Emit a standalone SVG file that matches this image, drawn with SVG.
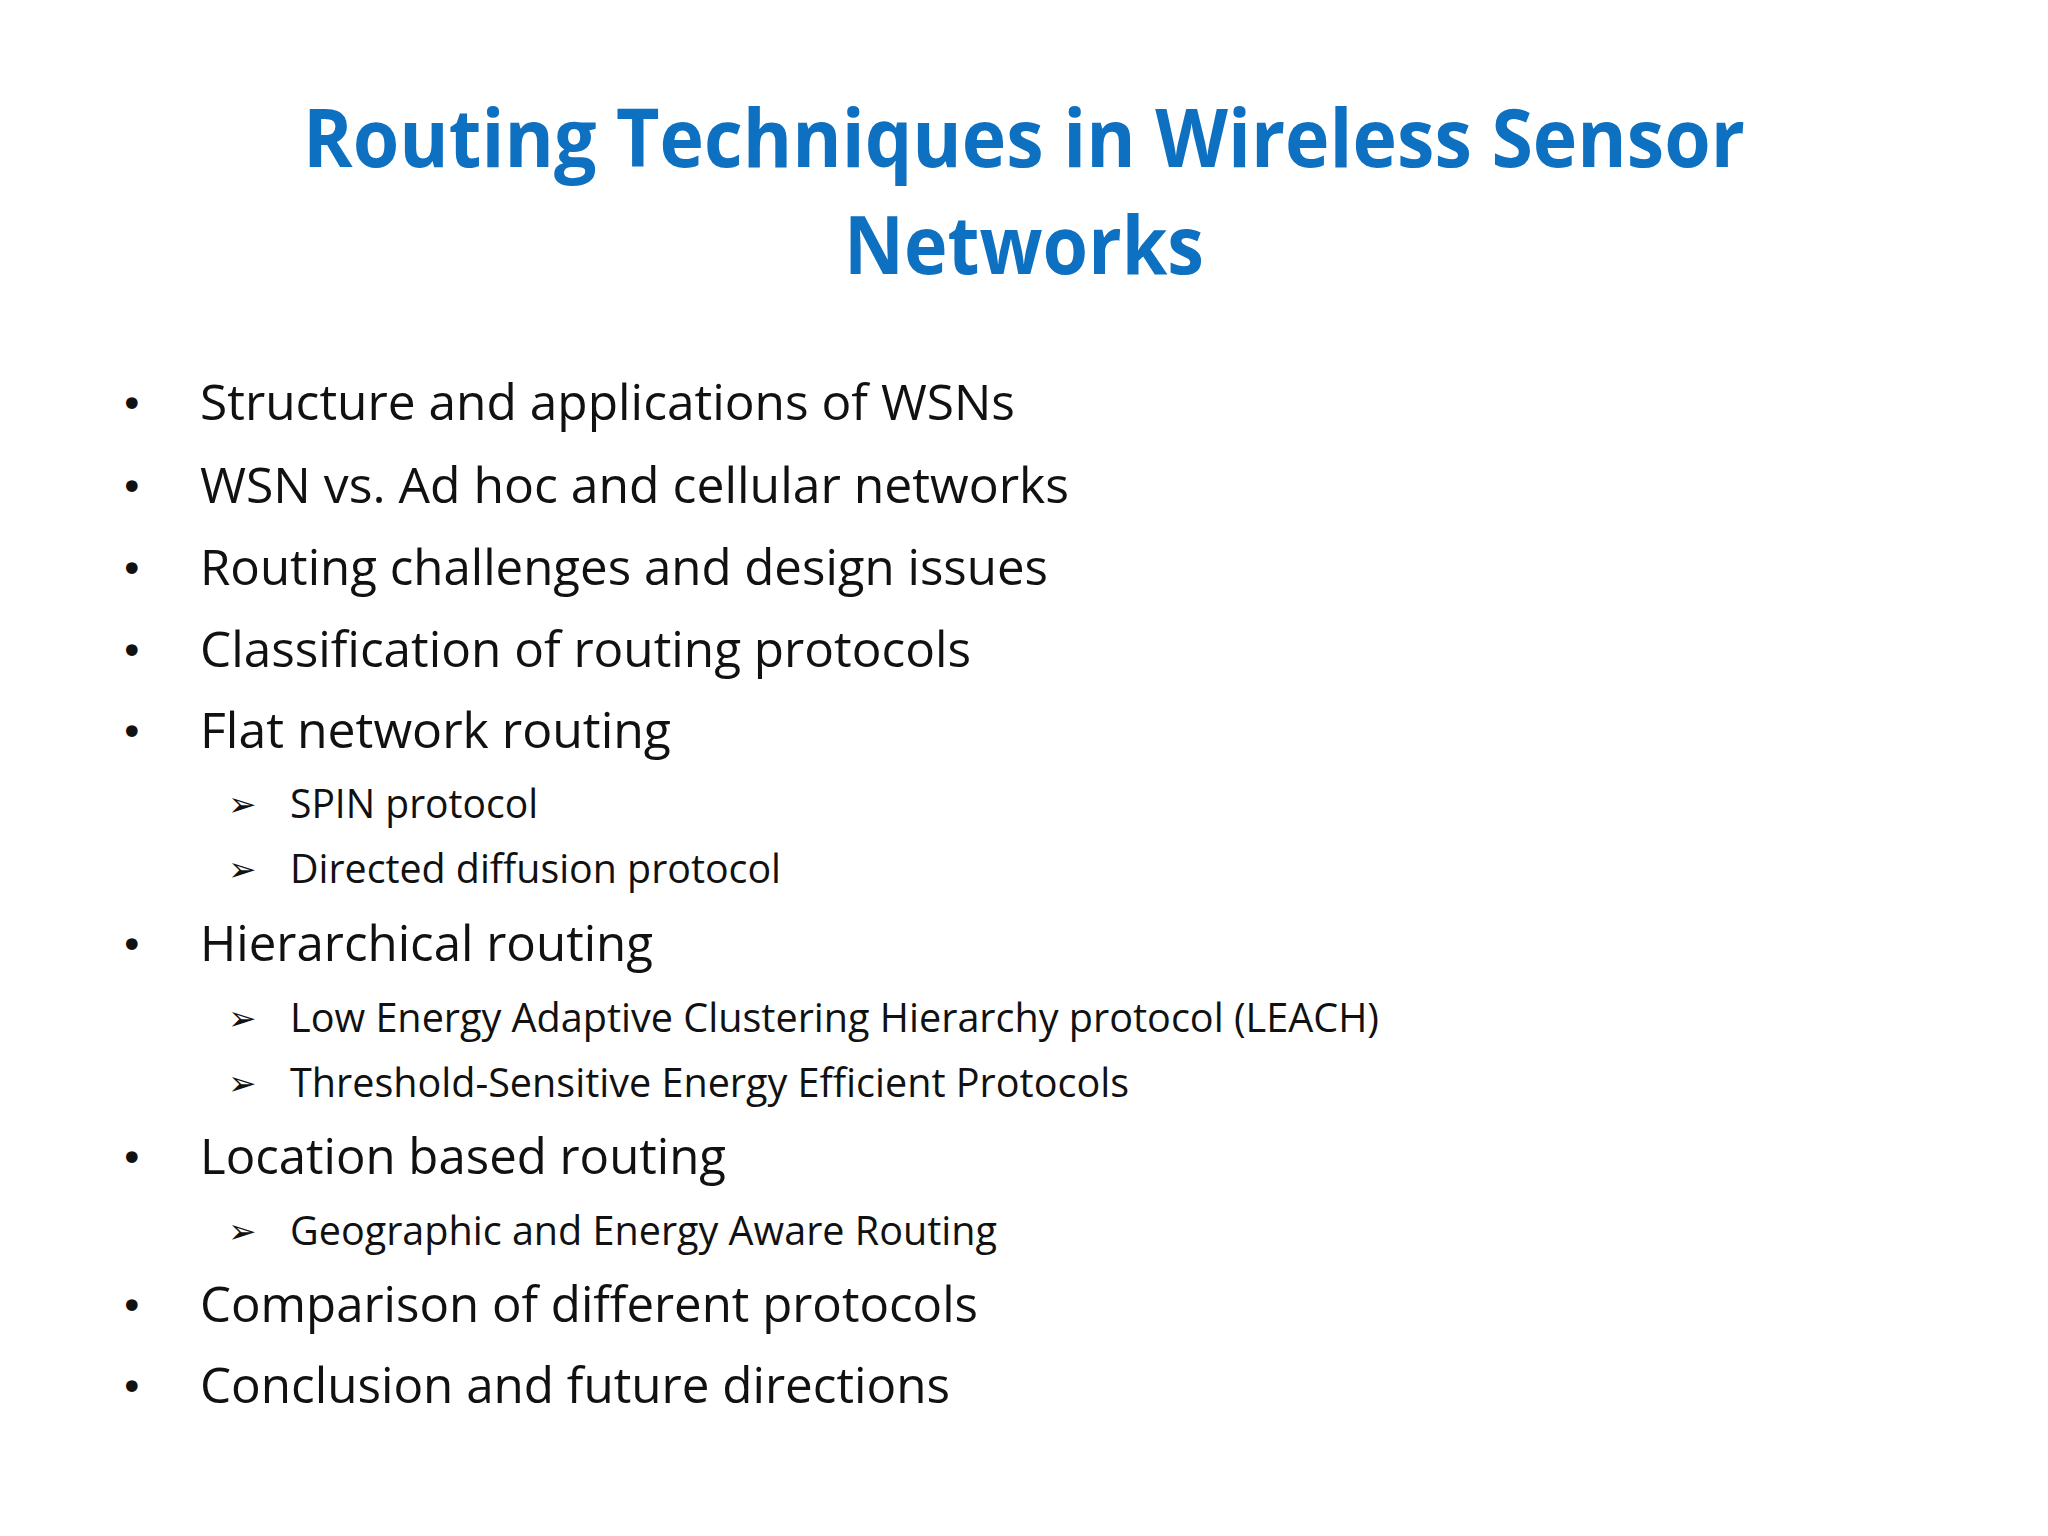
<svg xmlns="http://www.w3.org/2000/svg" width="2048" height="1536" viewBox="0 0 2048 1536">
<style>
.t{font-family:"Open Sans","Noto Sans",sans-serif;font-weight:bold;fill:#0e70c0;font-size:80px}
.m{font-family:"Open Sans","Noto Sans",sans-serif;fill:#111;font-size:50px}
.s{font-family:"Open Sans","Noto Sans",sans-serif;fill:#111;font-size:40px}
.b{font-family:"DejaVu Sans",sans-serif;fill:#111;font-size:40px}
.a{font-family:"DejaVu Sans",sans-serif;fill:#111;font-size:34px}
</style>
<rect width="2048" height="1536" fill="#fff"/>
<g id="title">
<text class="t" x="1024" y="167" text-anchor="middle" textLength="1442" lengthAdjust="spacingAndGlyphs">Routing Techniques in Wireless Sensor</text>
<text class="t" x="1024" y="274" text-anchor="middle" textLength="360" lengthAdjust="spacingAndGlyphs">Networks</text>
</g>
<g id="bullets">
<text class="b" x="120" y="418">•</text><text class="m" x="200" y="420" textLength="815" lengthAdjust="spacingAndGlyphs">Structure and applications of WSNs</text>
<text class="b" x="120" y="501">•</text><text class="m" x="200" y="503" textLength="869" lengthAdjust="spacingAndGlyphs">WSN vs. Ad hoc and cellular networks</text>
<text class="b" x="120" y="583">•</text><text class="m" x="200" y="585" textLength="848" lengthAdjust="spacingAndGlyphs">Routing challenges and design issues</text>
<text class="b" x="120" y="665">•</text><text class="m" x="200" y="667" textLength="771" lengthAdjust="spacingAndGlyphs">Classification of routing protocols</text>
<text class="b" x="120" y="746">•</text><text class="m" x="200" y="748" textLength="471" lengthAdjust="spacingAndGlyphs">Flat network routing</text>
<text class="a" x="228" y="816">➢</text><text class="s" x="290" y="818" textLength="248" lengthAdjust="spacingAndGlyphs">SPIN protocol</text>
<text class="a" x="228" y="881">➢</text><text class="s" x="290" y="883" textLength="491" lengthAdjust="spacingAndGlyphs">Directed diffusion protocol</text>
<text class="b" x="120" y="959">•</text><text class="m" x="200" y="961" textLength="453" lengthAdjust="spacingAndGlyphs">Hierarchical routing</text>
<text class="a" x="228" y="1030">➢</text><text class="s" x="290" y="1032" textLength="1089" lengthAdjust="spacingAndGlyphs">Low Energy Adaptive Clustering Hierarchy protocol (LEACH)</text>
<text class="a" x="228" y="1095">➢</text><text class="s" x="290" y="1097" textLength="839" lengthAdjust="spacingAndGlyphs">Threshold-Sensitive Energy Efficient Protocols</text>
<text class="b" x="120" y="1172">•</text><text class="m" x="200" y="1174" textLength="526" lengthAdjust="spacingAndGlyphs">Location based routing</text>
<text class="a" x="228" y="1243">➢</text><text class="s" x="290" y="1245" textLength="707" lengthAdjust="spacingAndGlyphs">Geographic and Energy Aware Routing</text>
<text class="b" x="120" y="1320">•</text><text class="m" x="200" y="1322" textLength="778" lengthAdjust="spacingAndGlyphs">Comparison of different protocols</text>
<text class="b" x="120" y="1401">•</text><text class="m" x="200" y="1403" textLength="750" lengthAdjust="spacingAndGlyphs">Conclusion and future directions</text>
</g>
</svg>
